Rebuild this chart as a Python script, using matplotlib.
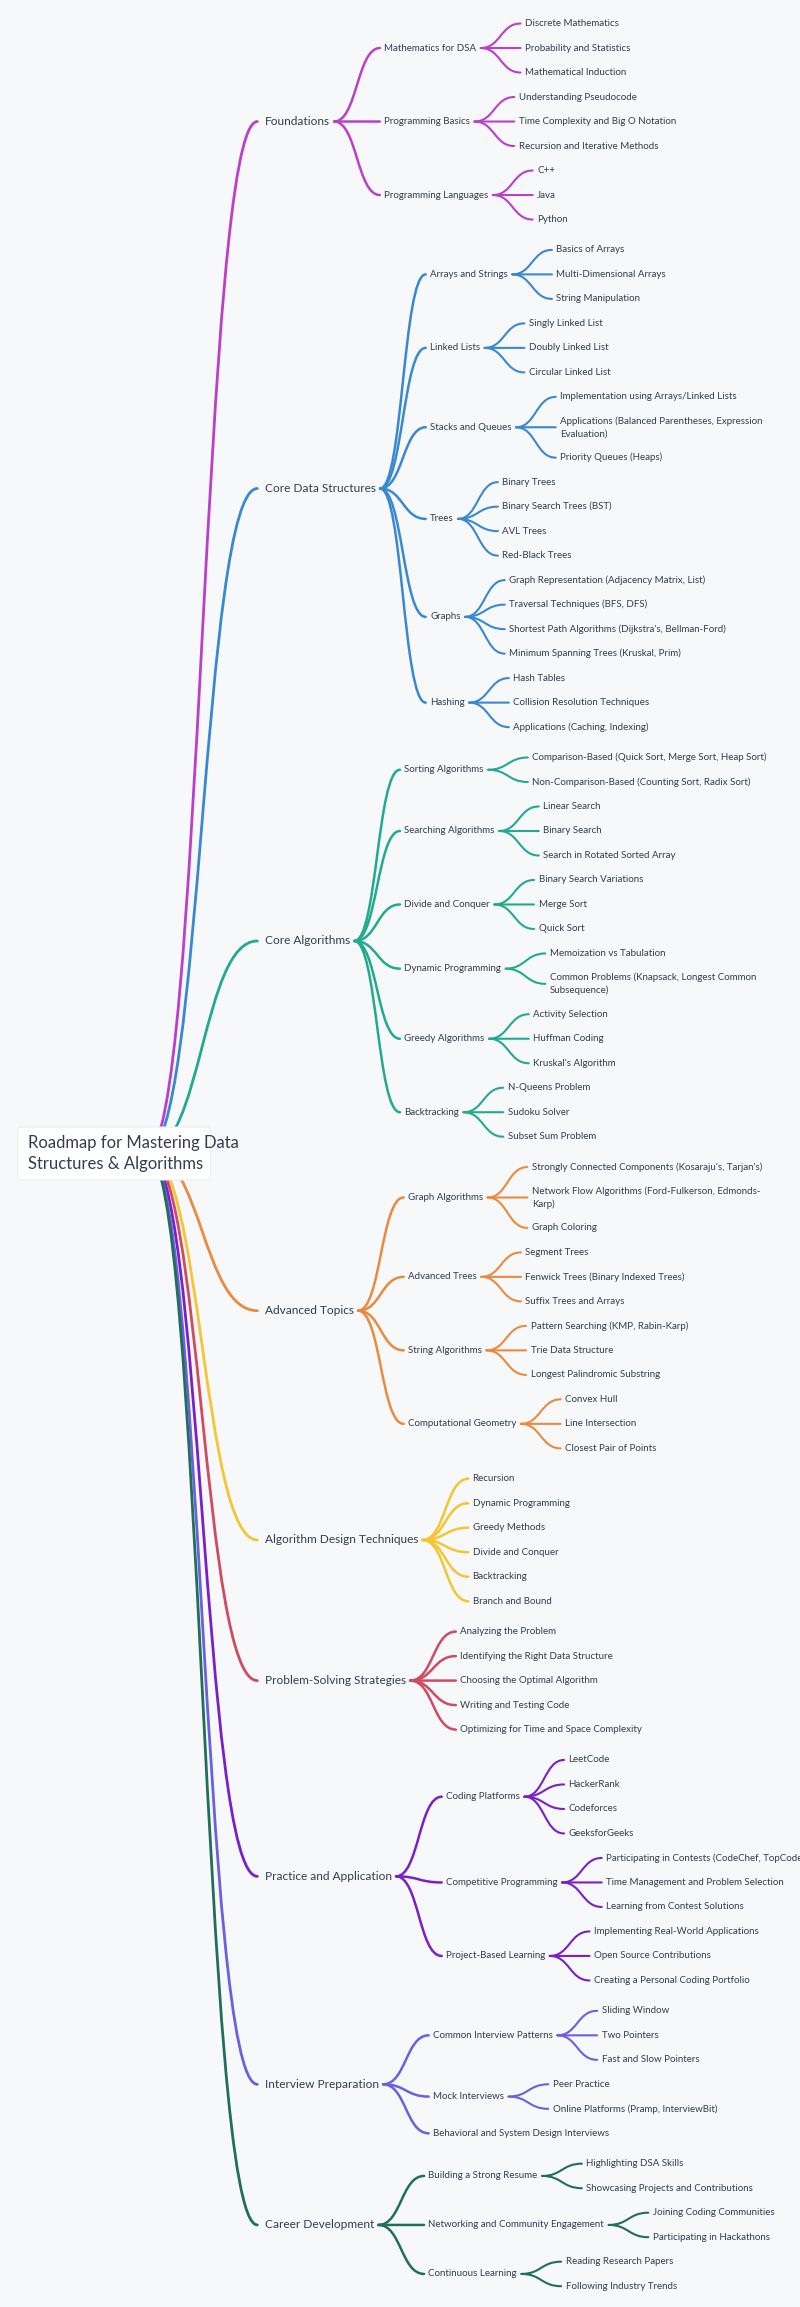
import matplotlib
matplotlib.use("Agg")
import matplotlib.pyplot as plt
from matplotlib.path import Path
from matplotlib.patches import PathPatch, FancyBboxPatch

# Mind map content
root_title = "Roadmap for Mastering Data\nStructures & Algorithms"

foundations = [
    ("Mathematics for DSA", ["Discrete Mathematics", "Probability and Statistics", "Mathematical Induction"]),
    ("Programming Basics", ["Understanding Pseudocode", "Time Complexity and Big O Notation", "Recursion and Iterative Methods"]),
    ("Programming Languages", ["C++", "Java", "Python"]),
]
core_ds = [
    ("Arrays and Strings", ["Basics of Arrays", "Multi-Dimensional Arrays", "String Manipulation"]),
    ("Linked Lists", ["Singly Linked List", "Doubly Linked List", "Circular Linked List"]),
    ("Stacks and Queues", ["Implementation using Arrays/Linked Lists",
                           "Applications (Balanced Parentheses, Expression\nEvaluation)",
                           "Priority Queues (Heaps)"]),
    ("Trees", ["Binary Trees", "Binary Search Trees (BST)", "AVL Trees", "Red-Black Trees"]),
    ("Graphs", ["Graph Representation (Adjacency Matrix, List)", "Traversal Techniques (BFS, DFS)",
                "Shortest Path Algorithms (Dijkstra's, Bellman-Ford)", "Minimum Spanning Trees (Kruskal, Prim)"]),
    ("Hashing", ["Hash Tables", "Collision Resolution Techniques", "Applications (Caching, Indexing)"]),
]
core_alg = [
    ("Sorting Algorithms", ["Comparison-Based (Quick Sort, Merge Sort, Heap Sort)",
                            "Non-Comparison-Based (Counting Sort, Radix Sort)"]),
    ("Searching Algorithms", ["Linear Search", "Binary Search", "Search in Rotated Sorted Array"]),
    ("Divide and Conquer", ["Binary Search Variations", "Merge Sort", "Quick Sort"]),
    ("Dynamic Programming", ["Memoization vs Tabulation",
                             "Common Problems (Knapsack, Longest Common\nSubsequence)"]),
    ("Greedy Algorithms", ["Activity Selection", "Huffman Coding", "Kruskal's Algorithm"]),
    ("Backtracking", ["N-Queens Problem", "Sudoku Solver", "Subset Sum Problem"]),
]
advanced = [
    ("Graph Algorithms", ["Strongly Connected Components (Kosaraju's, Tarjan's)",
                          "Network Flow Algorithms (Ford-Fulkerson, Edmonds-\nKarp)", "Graph Coloring"]),
    ("Advanced Trees", ["Segment Trees", "Fenwick Trees (Binary Indexed Trees)", "Suffix Trees and Arrays"]),
    ("String Algorithms", ["Pattern Searching (KMP, Rabin-Karp)", "Trie Data Structure", "Longest Palindromic Substring"]),
    ("Computational Geometry", ["Convex Hull", "Line Intersection", "Closest Pair of Points"]),
]
design = ["Recursion", "Dynamic Programming", "Greedy Methods",
          "Divide and Conquer", "Backtracking", "Branch and Bound"]
problem = ["Analyzing the Problem", "Identifying the Right Data Structure",
           "Choosing the Optimal Algorithm", "Writing and Testing Code",
           "Optimizing for Time and Space Complexity"]
practice = [
    ("Coding Platforms", ["LeetCode", "HackerRank", "Codeforces", "GeeksforGeeks"]),
    ("Competitive Programming", ["Participating in Contests (CodeChef, TopCoder)",
                                 "Time Management and Problem Selection", "Learning from Contest Solutions"]),
    ("Project-Based Learning", ["Implementing Real-World Applications", "Open Source Contributions",
                                "Creating a Personal Coding Portfolio"]),
]
interview = [
    ("Common Interview Patterns", ["Sliding Window", "Two Pointers", "Fast and Slow Pointers"]),
    ("Mock Interviews", ["Peer Practice", "Online Platforms (Pramp, InterviewBit)"]),
    "Behavioral and System Design Interviews",
]
career = [
    ("Building a Strong Resume", ["Highlighting DSA Skills", "Showcasing Projects and Contributions"]),
    ("Networking and Community Engagement", ["Joining Coding Communities", "Participating in Hackathons"]),
    ("Continuous Learning", ["Reading Research Papers", "Following Industry Trends"]),
]

topic_names = ["Foundations", "Core Data Structures", "Core Algorithms", "Advanced Topics",
               "Algorithm Design Techniques", "Problem-Solving Strategies", "Practice and Application",
               "Interview Preparation", "Career Development"]
topic_children = [foundations, core_ds, core_alg, advanced, design, problem, practice, interview, career]
topic_colors = ["#bb3fcb", "#3a88d2", "#22aa8e", "#ea8a3e", "#f5c533",
                "#d14a60", "#7a20c8", "#6b5fe2", "#1f6f5a"]

W, H = 544, 1568          # layout units (scaled to 800x2307 output)
SCALE = 800 / W
STEP = 16.65
WRAP_EXTRA = 8
TOPIC_GAP = 4
GAP = 33
TEXT_COL = "#333d4d"
FONT = "Lato"


def make_node(name, kids):
    node = {"name": name, "kids": []}
    for k in kids:
        if isinstance(k, tuple):
            node["kids"].append(make_node(k[0], k[1]))
        else:
            node["kids"].append({"name": k, "kids": []})
    return node


topics = [make_node(n, c) for n, c in zip(topic_names, topic_children)]

# assign y positions: leaves stacked top to bottom, parents centred on their children
state = {"y": None, "h": None}


def place(node):
    if not node["kids"]:
        h = STEP + (WRAP_EXTRA if "\n" in node["name"] else 0)
        if state["y"] is None:
            node["y"] = 16
        else:
            node["y"] = state["y"] + (state["h"] + h) / 2
        state["y"], state["h"] = node["y"], h
    else:
        for k in node["kids"]:
            place(k)
        node["y"] = (node["kids"][0]["y"] + node["kids"][-1]["y"]) / 2


for i, t in enumerate(topics):
    if i > 0:
        state["y"] += TOPIC_GAP
    place(t)

fig = plt.figure(figsize=(8, 23.07), dpi=100)
fig.patch.set_facecolor("#f7f8fa")
ax = fig.add_axes([0, 0, 1, 1])
ax.set_xlim(0, W)
ax.set_ylim(H, 0)
ax.axis("off")
renderer = fig.canvas.get_renderer()


def curve(x0, y0, x1, y1, color, lw):
    mx = (x0 + x1) / 2
    path = Path([(x0, y0), (mx, y0), (mx, y1), (x1, y1)],
                [Path.MOVETO, Path.CURVE4, Path.CURVE4, Path.CURVE4])
    ax.add_patch(PathPatch(path, fc="none", ec=color, lw=lw, capstyle="round", zorder=2))


def draw(node, x, color, depth):
    size = 8.6 if depth == 1 else 7.0
    t = ax.text(x, node["y"], node["name"], fontsize=size, color=TEXT_COL, family=FONT,
                va="center", ha="left", linespacing=1.5, zorder=3)
    xe = x + t.get_window_extent(renderer).width / SCALE
    cx = xe + (GAP + 4 if depth == 1 else GAP)
    for k in node["kids"]:
        curve(xe + 3, node["y"], cx - 3, k["y"], color, 1.8 if depth == 1 else 1.5)
        draw(k, cx, color, depth + 1)


ROOT = (100, 783)
for t, c in zip(topics, topic_colors):
    curve(ROOT[0], ROOT[1], 175, t["y"], c, 2.0)
    draw(t, 180, c, 1)

box = FancyBboxPatch((12, 766), 131, 36, boxstyle="round,pad=0,rounding_size=2",
                     fc="white", ec="#eceef2", lw=0.8, zorder=4)
ax.add_patch(box)
ax.text(19, 784, root_title, fontsize=12, color=TEXT_COL, family=FONT, va="center",
        ha="left", linespacing=1.45, zorder=5)

fig.savefig("out.png", dpi=100, facecolor=fig.get_facecolor())
